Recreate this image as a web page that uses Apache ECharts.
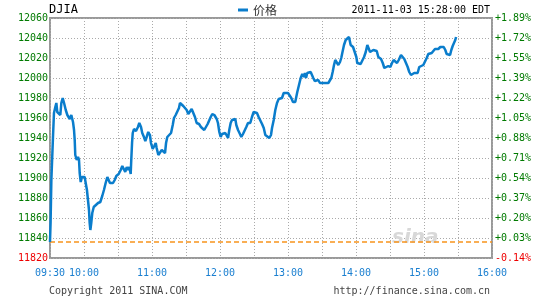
<!DOCTYPE html>
<html><head><meta charset="utf-8">
<script src="https://cdn.jsdelivr.net/npm/echarts@6/dist/echarts.min.js"></script>
<style>html,body{margin:0;padding:0;background:#fff}#c{width:545px;height:300px}</style>
</head><body><div id="c"></div>
<script>
// minutes since 09:30
var minutes = [0,0.5,1.2,2.6,3.5,4.7,5.6,6.4,7.9,9.1,10.0,11.2,12.4,13.9,15.3,17.4,18.8,20.3,21.2,21.8,22.3,23.6,24.7,25.6,26.2,27.1,28.2,29.4,30.6,31.5,32.6,33.5,34.4,35.0,35.6,36.4,37.3,38.6,40.3,42.4,44.4,45.3,46.1,47.6,49.1,50.6,51.8,52.9,55.6,57.1,58.5,60.6,62.4,63.8,65.3,66.4,67.7,68.8,70.0,71.2,71.7,72.4,73.0,74.1,75.9,77.6,78.8,80.3,81.4,82.9,84.1,85.3,86.7,88.2,89.1,90.6,92.0,93.3,94.1,95.6,97.1,98.6,100.0,101.5,102.4,103.5,105.0,106.8,108.3,109.4,110.9,112.3,113.8,114.7,116.2,117.6,119.1,120.6,122.0,123.5,125.0,126.4,127.9,129.4,131.5,133.2,134.7,136.1,137.6,139.1,140.6,141.8,143.2,145.0,147.1,148.2,149.4,150.6,151.8,153.3,154.7,156.2,157.1,158.2,159.4,160.6,162.1,163.5,164.4,165.9,167.6,168.8,170.3,171.8,173.2,174.7,176.7,178.2,179.7,181.1,182.6,184.1,185.6,187.1,188.6,190.0,191.5,193.5,195.0,195.9,197.4,198.8,200.3,201.8,203.2,204.7,206.2,207.6,210.0,211.5,212.9,214.4,216.4,217.3,218.2,219.7,221.2,222.6,224.1,225.0,225.9,227.0,228.5,230.0,231.4,232.3,233.6,235.3,236.7,238.2,240.3,242.4,244.1,245.6,247.1,248.2,249.4,250.6,251.7,253.0,254.4,255.9,257.0,257.9,259.4,260.9,262.3,263.8,265.3,267.4,269.1,270.3,271.1,272.6,274.1,275.6,277.1,278.6,280.0,281.2,282.4,283.9,285.3,286.8,288.3,289.7,290.6,292.1,293.6,295.0,296.5,298.5,300.3,301.8,303.2,304.7,306.2,307.7,309.7,311.2,312.6,314.1,315.6,317.0,318.5,320.0,321.4,322.9,324.4,325.8,327.4,329.4,331.1,332.4,333.8,335.3,336.8,338.2,339.7,341.2,342.6,344.4,345.9,347.4,348.8,350.0,351.5,353.0,354.1,355.3,356.7,357.6,358.3];
var prices = [11836,11855,11898,11940,11965,11971,11975,11966,11965,11963,11975,11980,11975,11968,11963,11959,11963,11956,11948,11938,11923,11918,11921,11918,11905,11896,11901,11899,11901,11895,11888,11878,11868,11855,11848,11855,11865,11871,11873,11875,11876,11875,11882,11888,11895,11901,11899,11895,11895,11898,11902,11904,11908,11912,11914,11906,11911,11908,11911,11904,11918,11935,11945,11949,11947,11951,11955,11951,11945,11941,11937,11941,11946,11943,11935,11929,11932,11935,11930,11923,11925,11928,11926,11925,11935,11941,11943,11945,11953,11960,11963,11964,11970,11975,11974,11972,11971,11968,11964,11966,11969,11968,11961,11955,11954,11951,11950,11948,11951,11954,11955,11961,11964,11963,11959,11955,11946,11941,11944,11946,11945,11943,11940,11948,11955,11958,11960,11959,11953,11948,11944,11941,11944,11946,11951,11955,11955,11961,11966,11968,11965,11961,11959,11954,11950,11943,11941,11940,11943,11950,11958,11968,11975,11979,11978,11980,11985,11986,11985,11983,11980,11976,11976,11981,11986,11993,12000,12004,12001,12005,12000,12005,12005,12006,12007,12000,11997,11996,11998,11995,11995,11995,11996,11995,11993,12000,12006,12013,12018,12016,12013,12016,12020,12025,12033,12038,12040,12041,12033,12031,12030,12021,12015,12013,12014,12016,12021,12026,12033,12035,12026,12027,12028,12030,12027,12021,12020,12019,12015,12010,12012,12012,12011,12015,12018,12016,12015,12018,12023,12021,12019,12015,12011,12006,12003,12003,12005,12006,12005,12011,12013,12013,12014,12020,12024,12025,12025,12027,12029,12027,12029,12031,12032,12031,12028,12024,12024,12023,12028,12032,12033,12038,12041];
var prevClose = 11836.3;
var leftTicks = [11820,11840,11860,11880,11900,11920,11940,11960,11980,12000,12020,12040,12060];
var rightTicks = ['-0.14%','+0.03%','+0.20%','+0.37%','+0.54%','+0.71%','+0.88%','+1.05%','+1.22%','+1.39%','+1.55%','+1.72%','+1.89%'];
var timeLabels = {0:'09:30',30:'10:00',90:'11:00',150:'12:00',210:'13:00',270:'14:00',330:'15:00',390:'16:00'};
var seriesName = '价格';
var titleText = 'DJIA';
var dateText = '2011-11-03 15:28:00 EDT';
var footLeft = 'Copyright 2011 SINA.COM';
var footRight = 'http://finance.sina.com.cn';

var mono = '"DejaVu Sans Mono", monospace';
var data = minutes.map(function(m,i){return [m, prices[i]];});
var chart = echarts.init(document.getElementById('c'), null, {renderer:'canvas'});
chart.setOption({
  animation:false,
  backgroundColor:'#fff',
  textStyle:{fontFamily:mono},
  grid:{left:50,right:53,top:18,bottom:42,show:true,borderColor:'#999',borderWidth:2},
  title:[
    {text:titleText,left:49,top:4,padding:0,textStyle:{fontFamily:mono,fontSize:12,fontWeight:'normal',color:'#000'}},
    {text:dateText,right:55,top:5,padding:0,textStyle:{fontFamily:mono,fontSize:10,fontWeight:'normal',color:'#000'}},
    {text:footLeft,left:49,top:286,padding:0,textStyle:{fontFamily:mono,fontSize:10,fontWeight:'normal',color:'#444'}},
    {text:footRight,right:55,top:286,padding:0,textStyle:{fontFamily:mono,fontSize:10,fontWeight:'normal',color:'#444'}}
  ],
  legend:{data:[seriesName],top:4,left:238,icon:'rect',itemWidth:10,itemHeight:3,itemGap:4,padding:0,
    textStyle:{fontFamily:'"Noto Sans CJK SC", sans-serif',fontSize:12,color:'#333'}},
  xAxis:{type:'value',min:0,max:390,interval:30,
    axisLine:{show:false},axisTick:{show:false},
    axisLabel:{color:'#1a7fd0',fontFamily:mono,fontSize:10,margin:10,showMinLabel:true,showMaxLabel:true,
      formatter:function(v){return timeLabels[v]||'';}},
    splitLine:{show:true,lineStyle:{color:'#aaa',type:[1,2],width:1}}},
  yAxis:[
    {type:'value',min:11820,max:12060,interval:20,position:'left',
      axisLine:{show:false},axisTick:{show:false},
      axisLabel:{fontFamily:mono,fontSize:10,margin:2,
        formatter:function(v){return String(v);},
        color:function(v){return v<prevClose?'#e00':'#007a00';}},
      splitLine:{show:true,lineStyle:{color:'#aaa',type:[1,2],width:1}}},
    {type:'value',min:11820,max:12060,interval:20,position:'right',
      axisLine:{show:false},axisTick:{show:false},
      axisLabel:{fontFamily:mono,fontSize:10,margin:3,
        formatter:function(v){var i=leftTicks.indexOf(v);return i>=0?rightTicks[i]:'';},
        color:function(v){return v<prevClose?'#e00':'#007a00';}},
      splitLine:{show:false}}
  ],
  graphic:[{type:'text',left:392,top:228,z:1,silent:true,
    style:{text:'sina',font:'italic bold 20px "DejaVu Sans", sans-serif',fill:'#d8d8d8'}}],
  series:[{name:seriesName,type:'line',data:data,showSymbol:false,symbol:'none',
    lineStyle:{color:'#0a7dcc',width:2.5},itemStyle:{color:'#0a7dcc'},z:5,
    markLine:{silent:true,symbol:'none',label:{show:false},
      lineStyle:{color:'#f7941d',type:[5,3],width:1.5},
      data:[{yAxis:prevClose}]}}]
});
</script></body></html>
